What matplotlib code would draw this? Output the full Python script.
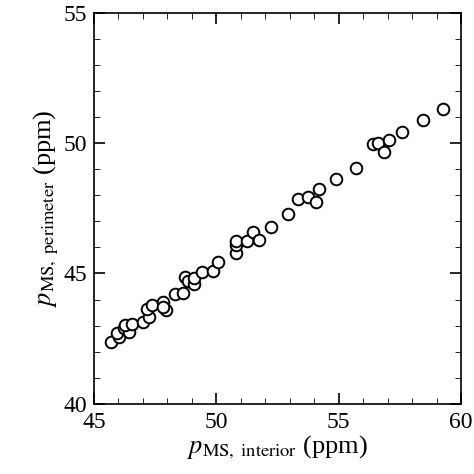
import matplotlib
matplotlib.use("Agg")
import matplotlib.pyplot as plt
from matplotlib.ticker import MultipleLocator

x = [45.72,46.03,45.93,46.24,46.44,46.27,46.57,47.02,47.25,47.18,47.36,47.81,47.94,47.83,48.32,48.64,48.72,48.83,49.10,49.10,49.43,49.87,50.05,50.79,50.79,50.80,51.24,51.51,51.76,52.23,52.92,53.32,53.76,54.06,54.18,54.89,55.71,56.39,56.62,56.83,57.06,57.60,58.42,59.25]
y = [42.37,42.56,42.71,42.90,42.75,43.03,43.08,43.13,43.35,43.64,43.80,43.92,43.61,43.73,44.22,44.25,44.88,44.73,44.60,44.84,45.07,45.11,45.44,45.78,46.10,46.26,46.26,46.58,46.29,46.80,47.30,47.86,47.95,47.76,48.25,48.63,49.06,49.97,50.00,49.67,50.13,50.42,50.87,51.32]

plt.rcParams['font.family'] = ['Liberation Serif', 'DejaVu Serif']
plt.rcParams['mathtext.fontset'] = 'stix'
fig = plt.figure(figsize=(4.74, 4.74), dpi=100)
ax = fig.add_axes([0.198, 0.148, 0.775, 0.825])
ax.scatter(x, y, s=70, facecolors='white', edgecolors='black', linewidths=1.4, zorder=3)
ax.set_xlim(45, 60)
ax.set_ylim(40, 55)
ax.xaxis.set_major_locator(MultipleLocator(5))
ax.yaxis.set_major_locator(MultipleLocator(5))
ax.xaxis.set_minor_locator(MultipleLocator(1))
ax.yaxis.set_minor_locator(MultipleLocator(1))
ax.tick_params(which='both', direction='in', top=True, right=True, labelsize=17)
ax.tick_params(which='major', length=8, width=1.2)
ax.tick_params(which='minor', length=4)
ax.tick_params(axis='x', pad=6)
ax.tick_params(axis='y', pad=5)
for s in ax.spines.values():
    s.set_linewidth(1.2)
ax.set_xlabel(r'$p_{\mathrm{MS,\ interior}}$ (ppm)', fontsize=19, labelpad=0)
ax.set_ylabel(r'$p_{\mathrm{MS,\ perimeter}}$ (ppm)', fontsize=19, labelpad=2)
fig.savefig('out.png', dpi=100)
